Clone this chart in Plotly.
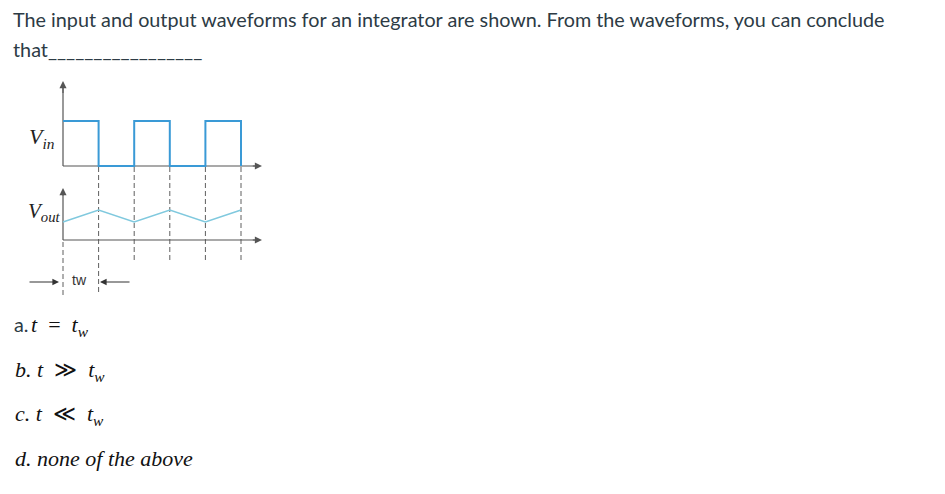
import plotly.graph_objects as go

W, H = 945, 494

# ---------------- data ----------------
time = [0, 1, 2, 3, 4, 5]              # time in units of tw
vin = [1, 0, 1, 0, 1, 0]               # square-wave input levels (step 'hv')
vout = [0.6, 1.0, 0.6, 1.0, 0.6, 1.0]  # triangular integrator output
tw_marks = [0, 1]                      # the interval labelled tw

question = ("The input and output waveforms for an integrator are shown. "
            "From the waveforms, you can conclude")
blank = "that_________________"
nb = "\u00a0"
opt_prefix = ["a.", "<i>b.</i>", "<i>c.</i>", "<i>d.</i>"]
opt_body = [
    f"<i>t</i>{nb}{nb}={nb}{nb}<i>t<sub>w</sub></i>",
    f"<i>t</i>{nb}{nb}≫{nb}{nb}<i>t<sub>w</sub></i>",
    f"<i>t</i>{nb}{nb}≪{nb}{nb}<i>t<sub>w</sub></i>",
    "<i>none of the above</i>",
]

# ---------------- geometry helpers (pixel -> paper) ----------------
def pxx(p):
    return p / W

def pxy(p):
    return 1 - p / H

X0, PXU = 63, 35.6          # pixel of t=0 and pixels per tw
XL, XR = 56, 270            # panel x extent in pixels
xrange_ = [(XL - X0) / PXU, (XR - X0) / PXU]
xdom = [pxx(XL), pxx(XR)]

# Vin panel
VIN_BASE, VIN_PXU, VIN_T, VIN_B = 166, 45.0, 76, 172
vin_range = [-(VIN_B - VIN_BASE) / VIN_PXU, (VIN_BASE - VIN_T) / VIN_PXU]
vin_dom = [pxy(VIN_B), pxy(VIN_T)]
# Vout panel
VO_BASE, VO_PXU, VO_T, VO_B = 240, 30.0, 184, 246
vo_range = [-(VO_B - VO_BASE) / VO_PXU, (VO_BASE - VO_T) / VO_PXU]
vo_dom = [pxy(VO_B), pxy(VO_T)]

vin_top = (VIN_BASE - 81) / VIN_PXU
vo_top = (VO_BASE - 188) / VO_PXU
x_end = (262 - X0) / PXU

AX = "#555555"
fig = go.Figure()
fig.add_trace(go.Scatter(x=time, y=vin, mode="lines", line_shape="hv",
                         line=dict(color="#3a9ad6", width=2),
                         xaxis="x", yaxis="y", hoverinfo="skip"))
fig.add_trace(go.Scatter(x=time, y=vout, mode="lines",
                         line=dict(color="#80c9de", width=1.6),
                         xaxis="x2", yaxis="y2", hoverinfo="skip"))

shapes = []
# axis lines (below traces)
for xa, ya, top in (("x", "y", vin_top), ("x2", "y2", vo_top)):
    shapes.append(dict(type="line", xref=xa, yref=ya, x0=0, x1=x_end - 0.1,
                       y0=0, y1=0, line=dict(color=AX, width=1.2), layer="below"))
    shapes.append(dict(type="line", xref=xa, yref=ya, x0=0, x1=0,
                       y0=0, y1=top - 0.1, line=dict(color=AX, width=1.2), layer="below"))
# dashed time markers
for t in time:
    if t == 0:
        y0p, y1p = 242, 295
    elif t in tw_marks:
        y0p, y1p = 167, 295
    else:
        y0p, y1p = 167, 260
    shapes.append(dict(type="line", xref="x", yref="paper", x0=t, x1=t,
                       y0=pxy(y0p), y1=pxy(y1p),
                       line=dict(color="#5f5f5f", width=1, dash="5px,3px"),
                       layer="below"))

def txt(x, y, text, family, size, color, xanchor="left"):
    return dict(x=pxx(x), y=pxy(y), xref="paper", yref="paper", xanchor=xanchor,
                yanchor="middle", text=text, showarrow=False,
                font=dict(family=family, size=size, color=color))

ann = []
# arrowheads
for xa, ya, top in (("x", "y", vin_top), ("x2", "y2", vo_top)):
    ann.append(dict(x=x_end, y=0, ax=x_end - 0.3, ay=0, xref=xa, yref=ya,
                    axref=xa, ayref=ya, text="", showarrow=True, arrowhead=2,
                    arrowsize=1.3, arrowwidth=1.1, arrowcolor=AX))
    ann.append(dict(x=0, y=top, ax=0, ay=top - 0.3, xref=xa, yref=ya,
                    axref=xa, ayref=ya, text="", showarrow=True, arrowhead=2,
                    arrowsize=1.3, arrowwidth=1.1, arrowcolor=AX))
# tw arrows
ann.append(dict(x=pxx(59), y=pxy(282), ax=-31, ay=0, xref="paper", yref="paper",
                text="", showarrow=True, arrowhead=2, arrowsize=1.2,
                arrowwidth=1.1, arrowcolor="#333"))
ann.append(dict(x=pxx(100), y=pxy(282), ax=31, ay=0, xref="paper", yref="paper",
                text="", showarrow=True, arrowhead=2, arrowsize=1.2,
                arrowwidth=1.1, arrowcolor="#333"))
ann.append(txt(79, 280, "tw", "Liberation Sans", 14, "#333", xanchor="center"))

serif = "Liberation Serif"
ann.append(txt(27, 138, "<i>V<sub>in</sub></i>", serif, 22, "#222"))
ann.append(txt(26, 212, "<i>V<sub>out</sub></i>", serif, 21, "#222"))

TXT = "#2d3b45"
ann.append(txt(11, 19, question, "Lato", 19.8, TXT))
ann.append(txt(11, 49, blank, "Lato", 19.8, TXT))

opt_y = [326, 371, 415, 458]
for i, (pre, body) in enumerate(zip(opt_prefix, opt_body)):
    if i == 0:
        ann.append(txt(12, 324, pre, "Lato", 19.8, TXT))
        ann.append(txt(29, opt_y[i], body, serif, 22, "#111"))
    else:
        ann.append(txt(13, opt_y[i], pre + nb + body, serif, 22, "#111"))

axcommon = dict(visible=False, fixedrange=True, showgrid=False, zeroline=False)
fig.update_layout(
    width=W, height=H, margin=dict(l=0, r=0, t=0, b=0),
    paper_bgcolor="white", plot_bgcolor="white", showlegend=False,
    xaxis=dict(domain=xdom, range=xrange_, anchor="y", **axcommon),
    yaxis=dict(domain=vin_dom, range=vin_range, anchor="x", **axcommon),
    xaxis2=dict(domain=xdom, range=xrange_, anchor="y2", **axcommon),
    yaxis2=dict(domain=vo_dom, range=vo_range, anchor="x2", **axcommon),
    shapes=shapes, annotations=ann,
)
fig.write_html("out.html", config={"displayModeBar": False},
               post_script="document.body.style.margin='0';")
